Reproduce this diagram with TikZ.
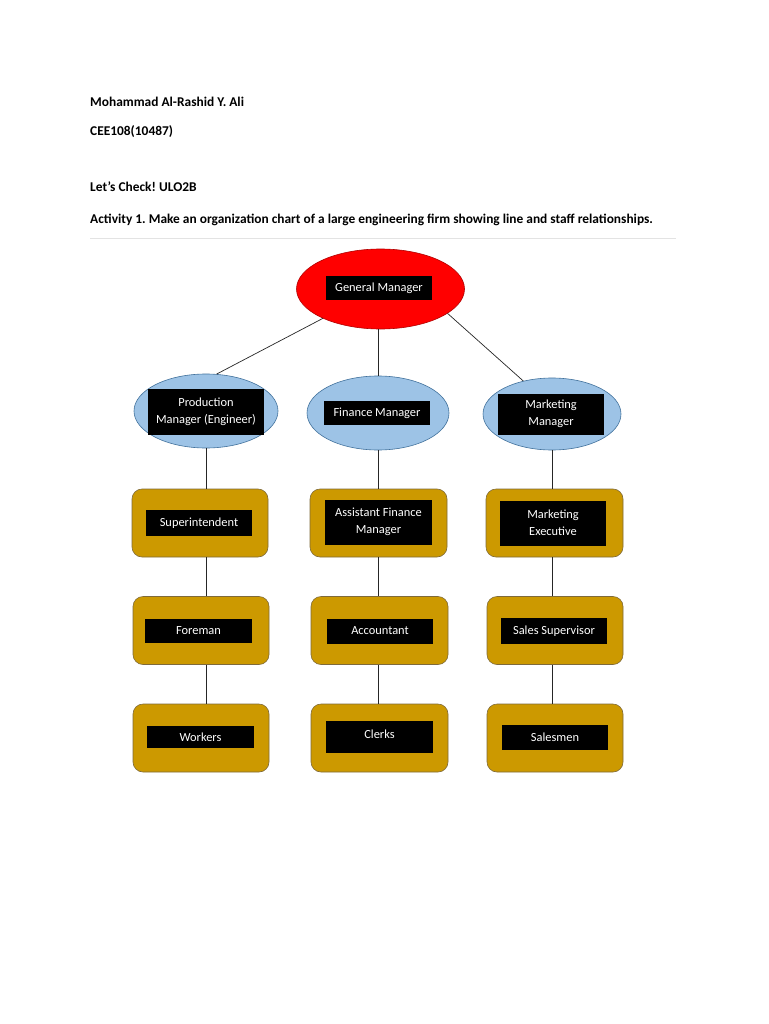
\documentclass[tikz,border=0pt]{standalone}
\usepackage{fontspec}
\setmainfont{Carlito}
\usetikzlibrary{shapes.geometric}
\definecolor{gmred}{HTML}{FF0000}
\definecolor{gmedge}{HTML}{B00000}
\definecolor{mgrblue}{HTML}{9DC3E6}
\definecolor{mgredge}{HTML}{41719C}
\definecolor{gold}{HTML}{CC9900}
\definecolor{goldedge}{HTML}{7F6A3A}
\definecolor{rulegray}{HTML}{E3E3E3}
\tikzset{
  head/.style={anchor=base west, inner sep=0pt, font=\fontsize{13.4}{15}\selectfont\bfseries},
  gmshape/.style={ellipse, draw=gmedge, fill=gmred, line width=0.6pt, inner sep=0pt},
  mgrshape/.style={ellipse, draw=mgredge, fill=mgrblue, line width=0.6pt, inner sep=0pt, minimum width=144pt, minimum height=74pt},
  posbox/.style={rectangle, rounded corners=10pt, draw=goldedge, fill=gold, line width=0.6pt, inner sep=0pt, minimum width=136pt, minimum height=68pt},
  label/.style={rectangle, fill=black, text=white, inner sep=0pt, align=center, font=\fontsize{12.4}{17}\selectfont},
  link/.style={draw=black!85, line width=0.7pt}
}
\begin{document}
\frenchspacing
\begin{tikzpicture}[x=1pt,y=-1pt]
\useasboundingbox (0,0) rectangle (768,1024);
\fill[white] (0,0) rectangle (768,1024);
% header
\node[head] (h1) at (90,107) {Mohammad Al-Rashid Y. Ali};
\node[head] (h2) at (90,136) {CEE108(10487)};
\node[head] (h3) at (90,192) {Let’s Check! ULO2B};
\node[head] (h4) at (90,223) {Activity 1. Make an organization chart of a large engineering firm showing line and staff relationships.};
\coordinate (r1) at (90,238);
\coordinate (r2) at (676,238);
\draw[rulegray, line width=1pt] (r1) -- (r2);
% general manager
\node[gmshape, minimum width=168pt, minimum height=80pt] (gm) at (380.5,289) {};
\node[label, minimum width=106pt, minimum height=24pt] (gmL) at (379,288) {General Manager};
% managers
\node[mgrshape] (pm) at (206,411) {};
\node[label, minimum width=116pt, minimum height=46pt] (pmL) at (206,412) {Production\\Manager (Engineer)};
\node[mgrshape, minimum width=142pt, minimum height=74pt] (fm) at (378,413) {};
\node[label, minimum width=106pt, minimum height=24pt] (fmL) at (377,413) {Finance Manager};
\node[mgrshape, minimum width=138pt, minimum height=72pt] (mm) at (552,414) {};
\node[label, minimum width=106pt, minimum height=41pt] (mmL) at (551,414) {Marketing\\Manager};
% row 1
\node[posbox] (s1) at (200,523) {};
\node[label, minimum width=106pt, minimum height=26pt] (s1L) at (199,523) {Superintendent};
\node[posbox, minimum width=137pt] (a1) at (378.5,523) {};
\node[label, minimum width=107pt, minimum height=45pt] (a1L) at (378.5,522) {Assistant Finance\\Manager};
\node[posbox, minimum width=137pt] (e1) at (554.5,523) {};
\node[label, minimum width=106pt, minimum height=45pt] (e1L) at (553,523) {Marketing\\Executive};
% row 2
\node[posbox] (f2) at (201,630.5) {};
\node[label, minimum width=107pt, minimum height=24pt] (f2L) at (198.5,631) {Foreman};
\node[posbox, minimum width=137pt] (c2) at (379.5,630.5) {};
\node[label, minimum width=106pt, minimum height=25pt] (c2L) at (380,631) {Accountant};
\node[posbox] (v2) at (555,630.5) {};
\node[label, minimum width=106pt, minimum height=26pt] (v2L) at (554,631) {Sales Supervisor};
% row 3
\node[posbox] (w3) at (201,738) {};
\node[label, minimum width=107pt, minimum height=22pt] (w3L) at (200.5,737) {Workers};
\node[posbox, minimum width=137pt] (k3) at (379.5,738) {};
\node[label, minimum width=107pt, minimum height=32pt, text height=8pt, text depth=6pt] (k3L) at (379.5,737) {Clerks};
\node[posbox] (m3) at (555,738) {};
\node[label, minimum width=106pt, minimum height=25pt] (m3L) at (555,737.5) {Salesmen};
% connectors
\draw[link] (gm.207) -- (pm.74);
\draw[link] (gm.south -| fm.north) -- (fm.north);
\draw[link] (gm.340) -- (mm.131);
\draw[link] (pm.south) -- (pm.south |- s1.north);
\draw[link] (s1.south -| pm.south) -- (f2.north -| pm.south);
\draw[link] (f2.south -| pm.south) -- (w3.north -| pm.south);
\draw[link] (fm.south) -- (fm.south |- a1.north);
\draw[link] (a1.south -| fm.south) -- (c2.north -| fm.south);
\draw[link] (c2.south -| fm.south) -- (k3.north -| fm.south);
\draw[link] (mm.south) -- (mm.south |- e1.north);
\draw[link] (e1.south -| mm.south) -- (v2.north -| mm.south);
\draw[link] (v2.south -| mm.south) -- (m3.north -| mm.south);
\end{tikzpicture}
\end{document}
